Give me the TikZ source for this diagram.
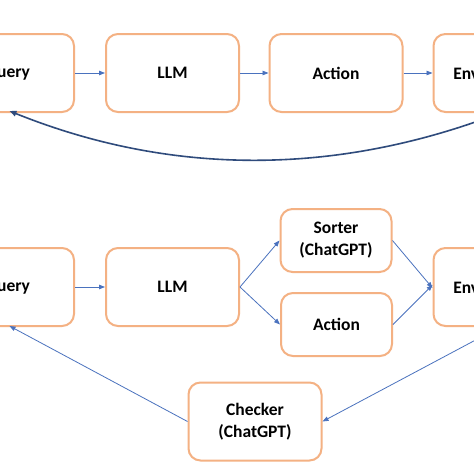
\documentclass[tikz,border=0pt]{standalone}
\usepackage{fontspec}
\setmainfont{Carlito}
\usetikzlibrary{arrows.meta}
\definecolor{boxor}{HTML}{F4B183}
\definecolor{arr}{HTML}{4A72BE}
\definecolor{curvec}{HTML}{2F4B7C}
\tikzset{
  flowbox/.style={draw=boxor, line width=2pt, rounded corners=12pt, fill=white,
    minimum width=133pt, minimum height=78pt, align=center, inner sep=2pt,
    font=\fontsize{17.5}{22}\selectfont\bfseries},
  smallbox/.style={flowbox, minimum width=111pt, minimum height=63pt},
  conn/.style={draw=arr, line width=0.8pt, -{Triangle[length=6pt,width=4.5pt]}},
  loopconn/.style={draw=curvec, line width=1.6pt, -{Triangle[length=7pt,width=5.5pt]}}
}
\begin{document}
\begin{tikzpicture}[x=1pt,y=-1pt]
\useasboundingbox (0,0) rectangle (474,474);
\clip (0,0) rectangle (474,474);
\fill[white] (0,0) rectangle (474,474);
% top row
\node[flowbox] (q1) at (7.5,73) {Query};
\node[flowbox] (l1) at (172.5,73) {LLM};
\node[flowbox] (a1) at (336,73) {Action};
\node[flowbox] (e1) at (500,73) {Environment};
\draw[conn] (q1.east) -- (l1.west);
\draw[conn] (l1.east) -- (a1.west);
\draw[conn] (a1.east) -- (e1.west);
\draw[loopconn] (e1.south) .. controls (336,176) and (171,176) .. ([xshift=2pt,yshift=2pt]q1.south);
% bottom
\node[flowbox] (q2) at (7.5,287) {Query};
\node[flowbox] (l2) at (172.5,287) {LLM};
\node[smallbox] (s2) at (336,240.5) {Sorter\\(ChatGPT)};
\node[smallbox] (a2) at (336.5,324.5) {Action};
\node[flowbox] (e2) at (500,287) {Environment};
\node[flowbox] (c2) at (255,421.5) {Checker\\(ChatGPT)};
\draw[conn] (q2.east) -- (l2.west);
\draw[conn] (l2.east) -- (s2.west);
\draw[conn] (l2.east) -- (a2.west);
\draw[conn] (s2.east) -- ([yshift=-1pt]e2.west);
\draw[conn] (a2.east) -- ([yshift=2pt]e2.west);
\draw[conn] (c2.west) -- ([xshift=2pt,yshift=1pt]q2.south);
\draw[conn] (e2.south) -- (c2.east);
\end{tikzpicture}
\end{document}
